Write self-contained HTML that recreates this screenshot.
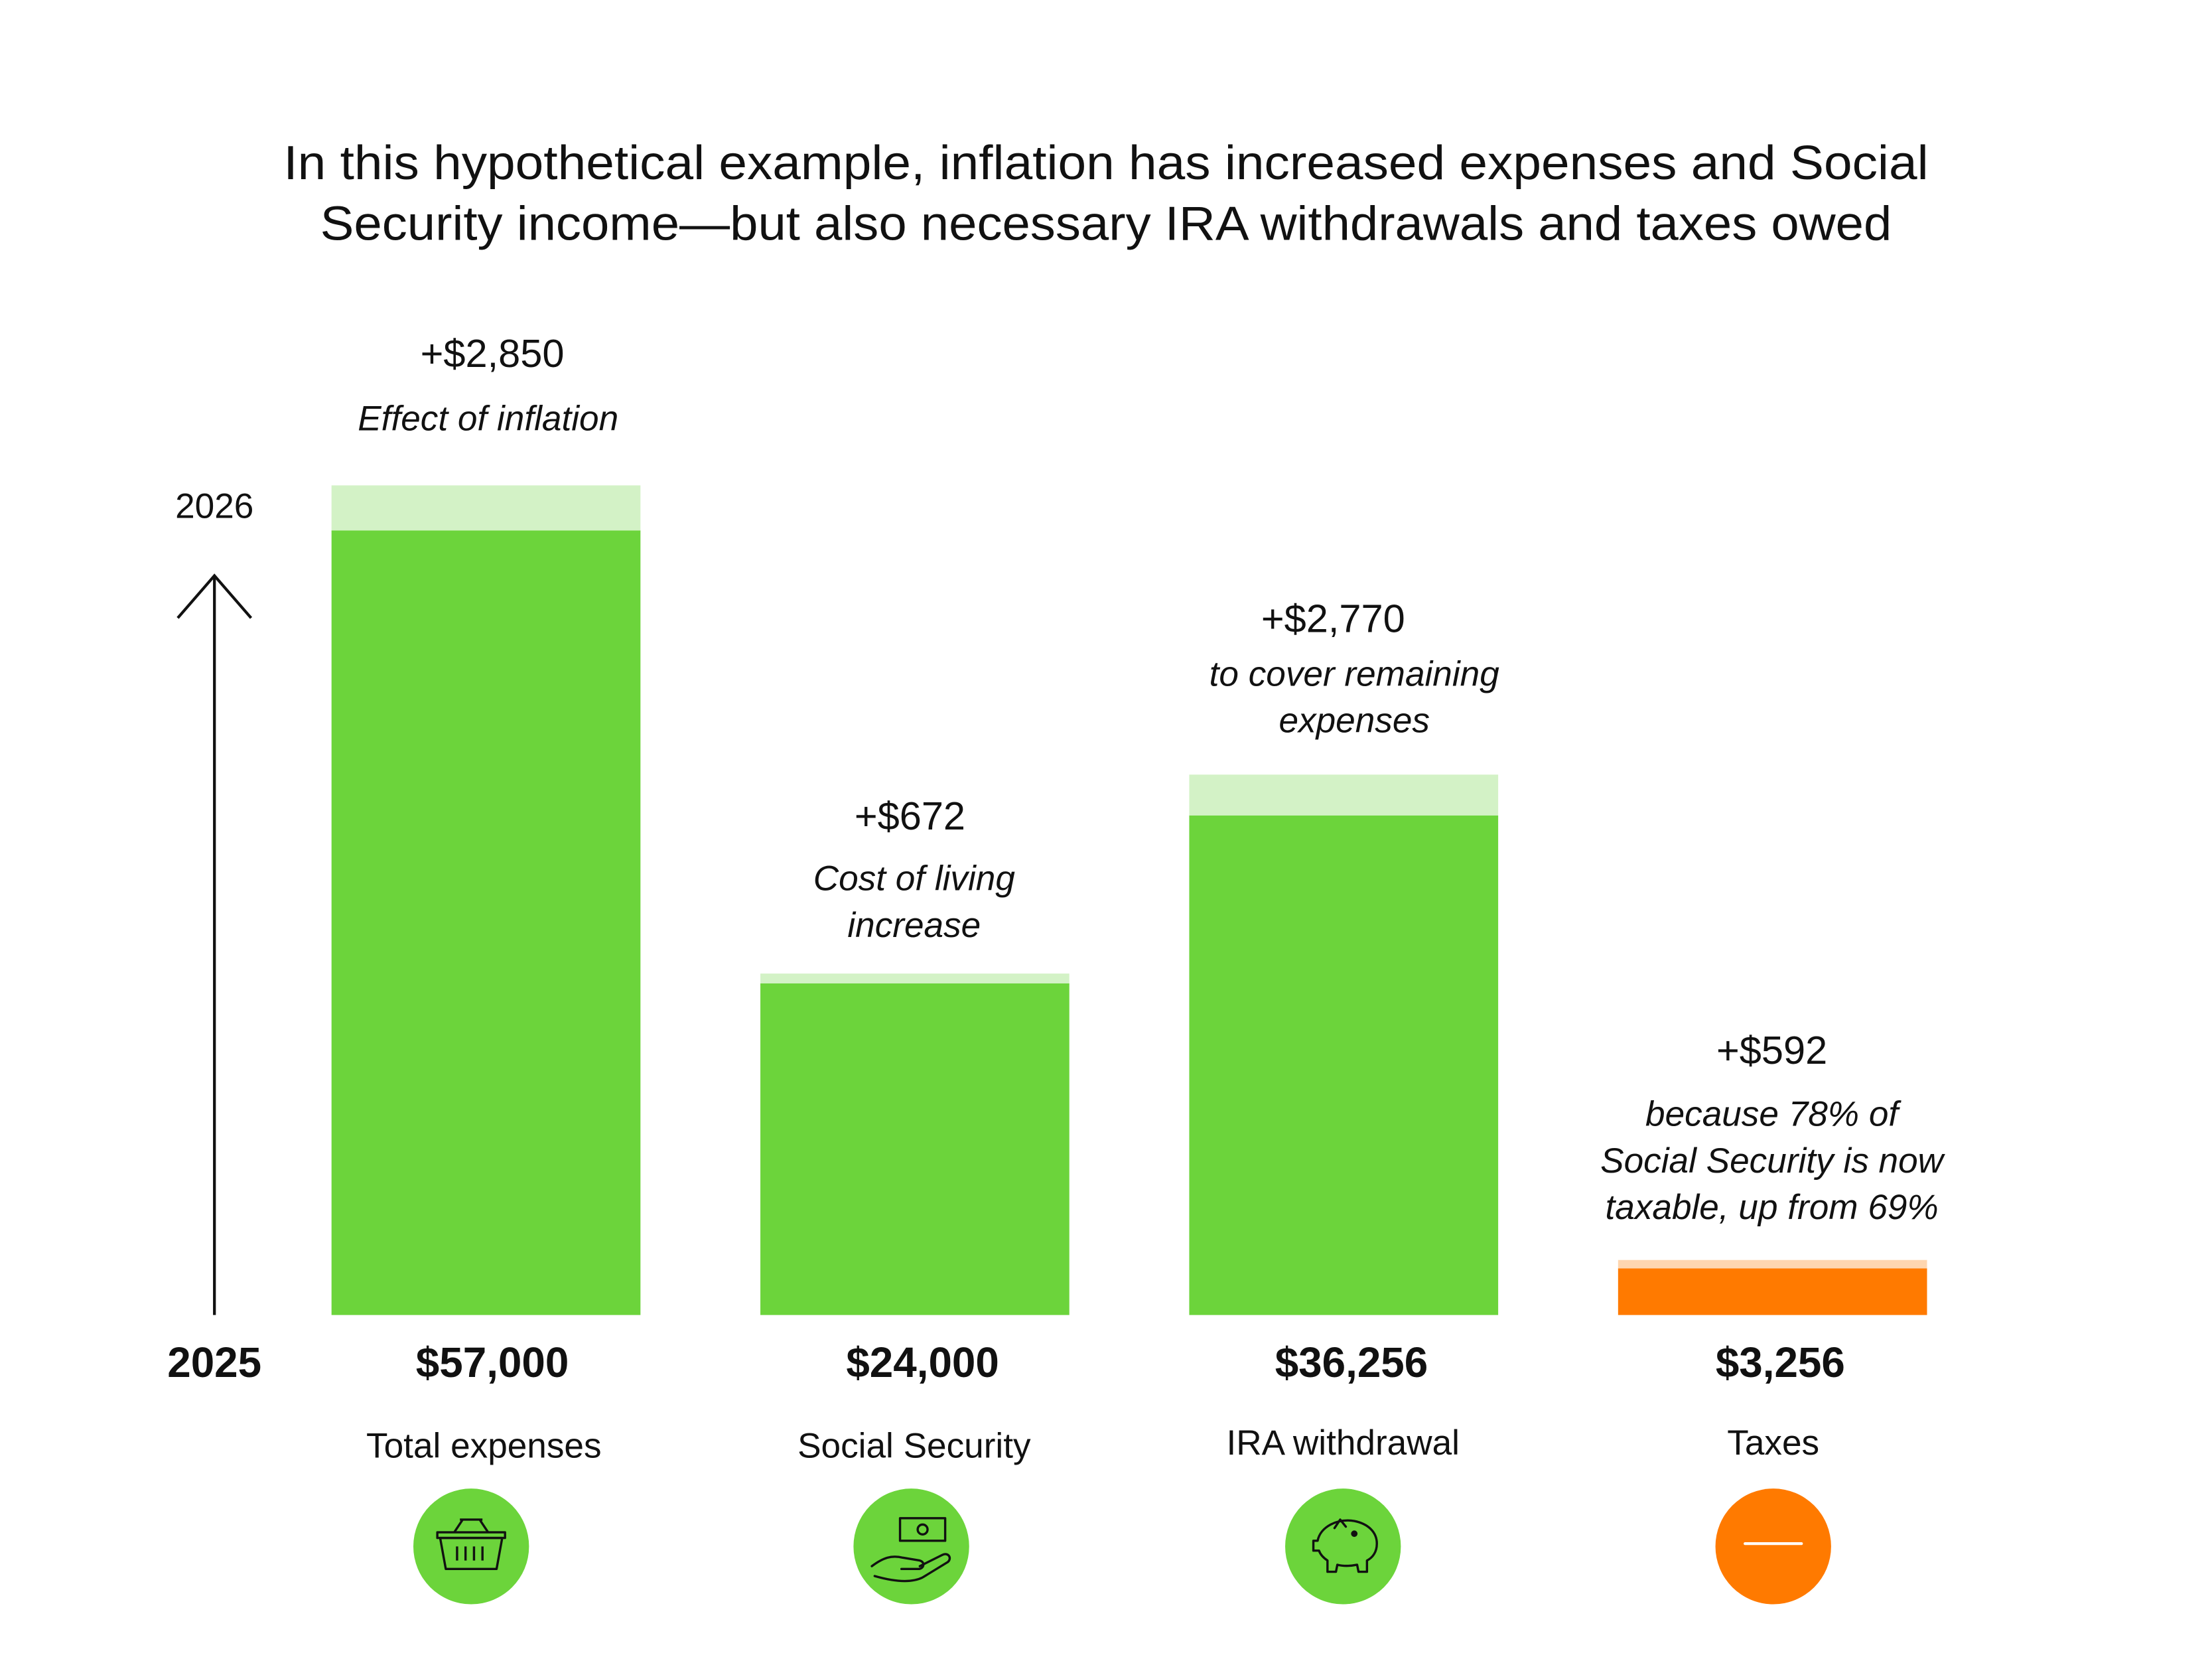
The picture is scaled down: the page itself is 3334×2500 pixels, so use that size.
<!DOCTYPE html>
<html><head><meta charset="utf-8"><style>
html,body{margin:0;padding:0;background:#fff;}
svg{display:block;}
text{font-family:"Liberation Sans",sans-serif;fill:#111;}
</style></head><body>
<svg width="3334" height="2500" viewBox="0 0 1568 1175.8" preserveAspectRatio="none" xmlns="http://www.w3.org/2000/svg">
<rect width="1568" height="1176" fill="#fff"/>
<text x="784" y="127" font-size="34" text-anchor="middle" textLength="1166" lengthAdjust="spacingAndGlyphs">In this hypothetical example, inflation has increased expenses and Social</text>
<text x="784" y="170" font-size="34" text-anchor="middle" textLength="1114" lengthAdjust="spacingAndGlyphs">Security income—but also necessary IRA withdrawals and taxes owed</text>

<line x1="152" y1="932" x2="152" y2="409" stroke="#111" stroke-width="2"/>
<polyline points="126,438 152,408 178,438" fill="none" stroke="#111" stroke-width="2"/>
<text x="152" y="367" font-size="25" text-anchor="middle">2026</text>
<text x="152" y="976" font-size="30" font-weight="bold" text-anchor="middle" fill="#222">2025</text>

<rect x="235" y="344" width="219" height="33" fill="#d3f2c6"/>
<rect x="235" y="376" width="219" height="556" fill="#6cd43b"/>
<rect x="539" y="690" width="219" height="8" fill="#d3f2c6"/>
<rect x="539" y="697" width="219" height="235" fill="#6cd43b"/>
<rect x="843" y="549" width="219" height="30" fill="#d3f2c6"/>
<rect x="843" y="578" width="219" height="354" fill="#6cd43b"/>
<rect x="1147" y="893" width="219" height="7" fill="#fed6b0"/>
<rect x="1147" y="899" width="219" height="33" fill="#ff7a00"/>

<g font-size="30" font-weight="bold" text-anchor="middle">
<text x="349" y="976" fill="#222">$57,000</text>
<text x="654" y="976" fill="#222">$24,000</text>
<text x="958" y="976" fill="#222">$36,256</text>
<text x="1262" y="976" fill="#222">$3,256</text>
</g>
<g font-size="25" text-anchor="middle">
<text x="343" y="1033">Total expenses</text>
<text x="648" y="1033">Social Security</text>
<text x="952" y="1031">IRA withdrawal</text>
<text x="1257" y="1031">Taxes</text>
</g>

<g text-anchor="middle">
<text x="349" y="260" font-size="28">+$2,850</text>
<text x="346" y="305" font-size="25" font-style="italic">Effect of inflation</text>
<text x="645" y="588" font-size="28">+$672</text>
<text x="648" y="631" font-size="25" font-style="italic">Cost of living</text>
<text x="648" y="664" font-size="25" font-style="italic">increase</text>
<text x="945" y="448" font-size="28">+$2,770</text>
<text x="960" y="486" font-size="25" font-style="italic">to cover remaining</text>
<text x="960" y="519" font-size="25" font-style="italic">expenses</text>
<text x="1256" y="754" font-size="28">+$592</text>
<text x="1256" y="798" font-size="25" font-style="italic">because 78% of</text>
<text x="1256" y="831" font-size="25" font-style="italic">Social Security is now</text>
<text x="1256" y="864" font-size="25" font-style="italic">taxable, up from 69%</text>
</g>

<circle cx="334" cy="1096" r="41" fill="#6cd43b"/>
<g fill="none" stroke="#111" stroke-width="1.6" stroke-linejoin="round">
<path d="M312 1090 L356 1090 L352 1112 L316 1112 Z"/>
<path d="M310 1086 h48 v4 h-48 z"/>
<path d="M322 1086 L328 1077 M346 1086 L340 1077 M326 1077 h16"/>
<path d="M324 1096 v10 M330 1096 v10 M336 1096 v10 M342 1096 v10"/>
</g>
<circle cx="646" cy="1096" r="41" fill="#6cd43b"/>
<g fill="none" stroke="#111" stroke-width="1.6" stroke-linejoin="round" stroke-linecap="round">
<rect x="638" y="1076" width="32" height="16"/>
<circle cx="654" cy="1084" r="3.5"/>
<path d="M618 1110 c8 -6 14 -8 22 -6 l12 2 c4 1 3 6 -1 6 l-12 0 M652 1110 l16 -8 c4 -2 7 2 4 5 l-18 11 c-8 4 -20 3 -34 -1"/>
</g>
<circle cx="952" cy="1096" r="41" fill="#6cd43b"/>
<g fill="none" stroke="#111" stroke-width="1.6" stroke-linejoin="round" stroke-linecap="round">
<path d="M934 1092 c2 -10 14 -16 26 -14 c10 2 16 8 16 16 c0 6 -3 10 -7 12 l0 8 h-6 l-1 -5 c-5 1 -10 1 -14 0 l-1 5 h-6 l0 -8 c-3 -2 -5 -4 -6 -7 h-4 v-7 z"/>
<path d="M946 1083 l4 -6 l4 5"/>
<circle cx="960" cy="1087" r="1.5" fill="#111"/>
</g>
<circle cx="1257" cy="1096" r="41" fill="#ff7a00"/>
<line x1="1237" y1="1094" x2="1277" y2="1094" stroke="#fff" stroke-width="2" stroke-linecap="round"/>
</svg>
</body></html>
